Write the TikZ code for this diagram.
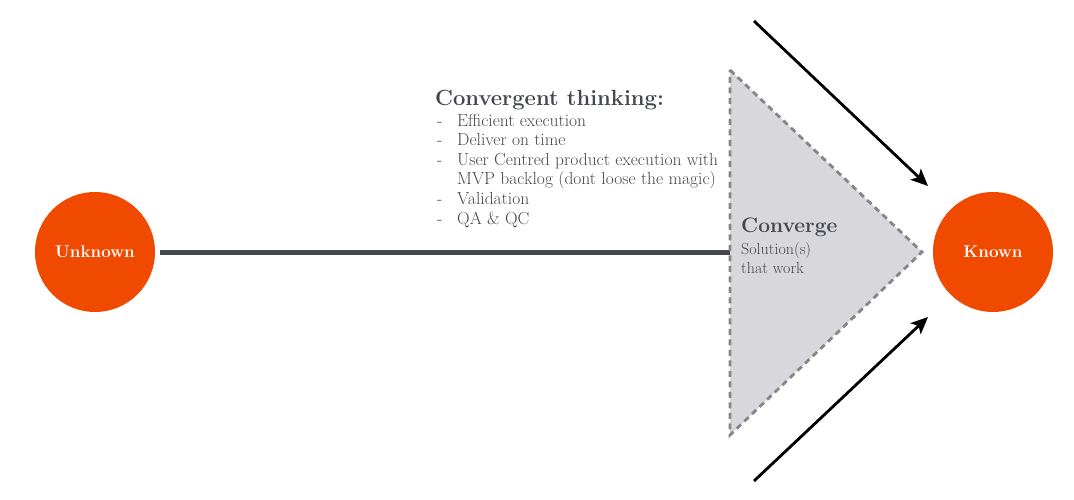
\documentclass[tikz,border=0pt]{standalone}
\usepackage{fontspec}
\usetikzlibrary{arrows.meta}
\definecolor{orng}{HTML}{F04A00}
\definecolor{dk}{HTML}{43464C}
\definecolor{tri}{HTML}{D8D8DC}
\definecolor{dash}{HTML}{86868A}
\begin{document}
\begin{tikzpicture}[x=1pt,y=-1pt,
  circ/.style={circle,fill=orng,minimum size=120pt,inner sep=0pt,text=white,font=\bfseries\fontsize{17}{19}\selectfont},
  txt/.style={text=dk,inner sep=0pt},
  arr/.style={line width=2.8pt,-{Stealth[length=17pt,width=15pt,inset=4pt]}}]
\useasboundingbox (0,0) rectangle (1074,500);
\node[circ] (unk) at (95,252) {Unknown};
\node[circ] (kn) at (993,252) {Known};
\coordinate (t1) at (730,70);
\coordinate (t2) at (922,252);
\coordinate (t3) at (730,435);
\coordinate (lend) at (730,252);
\draw[line width=5pt,dk] (unk.east)++(5pt,0) -- (lend);
\filldraw[fill=tri,draw=dash,line width=2.8pt,dash pattern=on 6pt off 4.5pt] (t1) -- (t2) -- (t3) -- cycle;
\coordinate (a1s) at (754,21);
\coordinate (a2s) at (754,481);
\coordinate (a1e) at (928,186);
\coordinate (a2e) at (928,317);
\draw[arr] (a1s) -- (a1e);
\draw[arr] (a2s) -- (a2e);
\node[txt,anchor=base west,font=\bfseries\fontsize{22}{24}\selectfont] (head) at (435,106) {Convergent thinking:};
\node[txt,anchor=base west,align=left,font=\fontsize{17.5}{19.6}\selectfont] (list) at (437,224)
{\makebox[20pt][l]{-}Efficient execution\\
\makebox[20pt][l]{-}Deliver on time\\
\makebox[20pt][l]{-}User Centred product execution with\\
\hspace*{20pt}MVP backlog (dont loose the magic)\\
\makebox[20pt][l]{-}Validation\\
\makebox[20pt][l]{-}QA \& QC};
\node[txt,anchor=base west,font=\bfseries\fontsize{21}{23}\selectfont] (conv) at (741,232) {Converge};
\node[txt,anchor=base west,align=left,font=\fontsize{16}{18.5}\selectfont] (sol) at (741,273) {Solution(s)\\that work};
\end{tikzpicture}
\end{document}
